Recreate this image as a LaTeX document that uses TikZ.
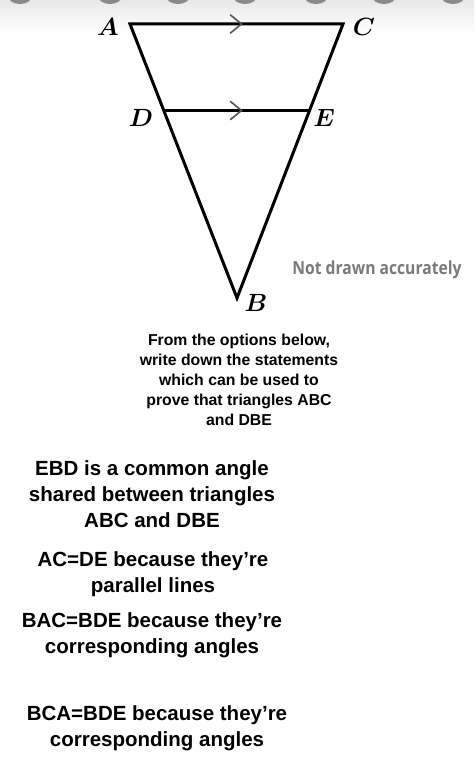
\documentclass[tikz,border=0pt]{standalone}
\usepackage{bm}
\usepackage{fontspec}
\setmainfont{Liberation Sans}
\newfontfamily\condfont[FakeStretch=0.87]{Open Sans}
\usetikzlibrary{calc}
\definecolor{chev}{HTML}{555555}
\definecolor{notegray}{HTML}{7A7A7A}
\definecolor{dotgray}{HTML}{8A8A8A}
\begin{document}
\begin{tikzpicture}[x=1pt,y=-1pt,
  edge/.style={line width=3pt,line join=miter,line cap=butt},
  chevron/.style={chev,line width=1.6pt,line cap=round},
  ptlabel/.style={inner sep=0pt,font=\fontsize{25.5}{25.5}\selectfont},
  stmt/.style={align=center,inner sep=0pt,font=\bfseries\fontsize{20.5}{26}\selectfont},
  question/.style={align=center,inner sep=0pt,font=\bfseries\fontsize{15.8}{20}\selectfont}]
\useasboundingbox (0,0) rectangle (474,783);
% top band
\shade[top color=black!9,bottom color=white] (0,0) rectangle (474,32);
\begin{scope}
\clip (0,0) rectangle (474,4);
\foreach \cx in {20,110,178,245,316,384,453}
  \fill[dotgray] (\cx,-4) ellipse (12 and 8);
\end{scope}
% vertices
\coordinate (A) at (130,24);
\coordinate (C) at (343,24);
\coordinate (B) at (237,298);
\coordinate (D) at ($(A)!0.3139!(B)$);
\coordinate (E) at ($(C)!0.3139!(B)$);
\draw[edge] (A) -- (C) -- (B) -- cycle;
\draw[edge] (D) -- (E);
% parallel marks
\coordinate (m1) at (241.5,24);
\coordinate (m2) at (241.5,110.5);
\draw[chevron] ($(m1)+(-11,-9)$) -- (m1) -- ($(m1)+(-11,9)$);
\draw[chevron] ($(m2)+(-11,-9)$) -- (m2) -- ($(m2)+(-11,9)$);
% labels
\node[ptlabel] (lA) at (108,27) {$\bm{A}$};
\node[ptlabel] (lC) at (364,27) {$\bm{C}$};
\node[ptlabel] (lD) at (141,118) {$\bm{D}$};
\node[ptlabel] (lE) at (324,118) {$\bm{E}$};
\node[ptlabel] (lB) at (256,303) {$\bm{B}$};
\node[inner sep=0pt,text=notegray,font=\condfont\bfseries\fontsize{18}{20}\selectfont] (note) at (377,270) {Not drawn accurately};
% question
\node[question] (q) at (239,380) {From the options below,\\write down the statements\\which can be used to\\prove that triangles ABC\\and DBE};
% statements
\node[stmt] (s1) at (152,494) {EBD is a common angle\\shared between triangles\\ABC and DBE};
\node[stmt] (s2) at (153,574) {AC=DE because they’re\\parallel lines};
\node[stmt] (s3) at (152,635) {BAC=BDE because they’re\\corresponding angles};
\node[stmt] (s4) at (157,728) {BCA=BDE because they’re\\corresponding angles};
\end{tikzpicture}
\end{document}
